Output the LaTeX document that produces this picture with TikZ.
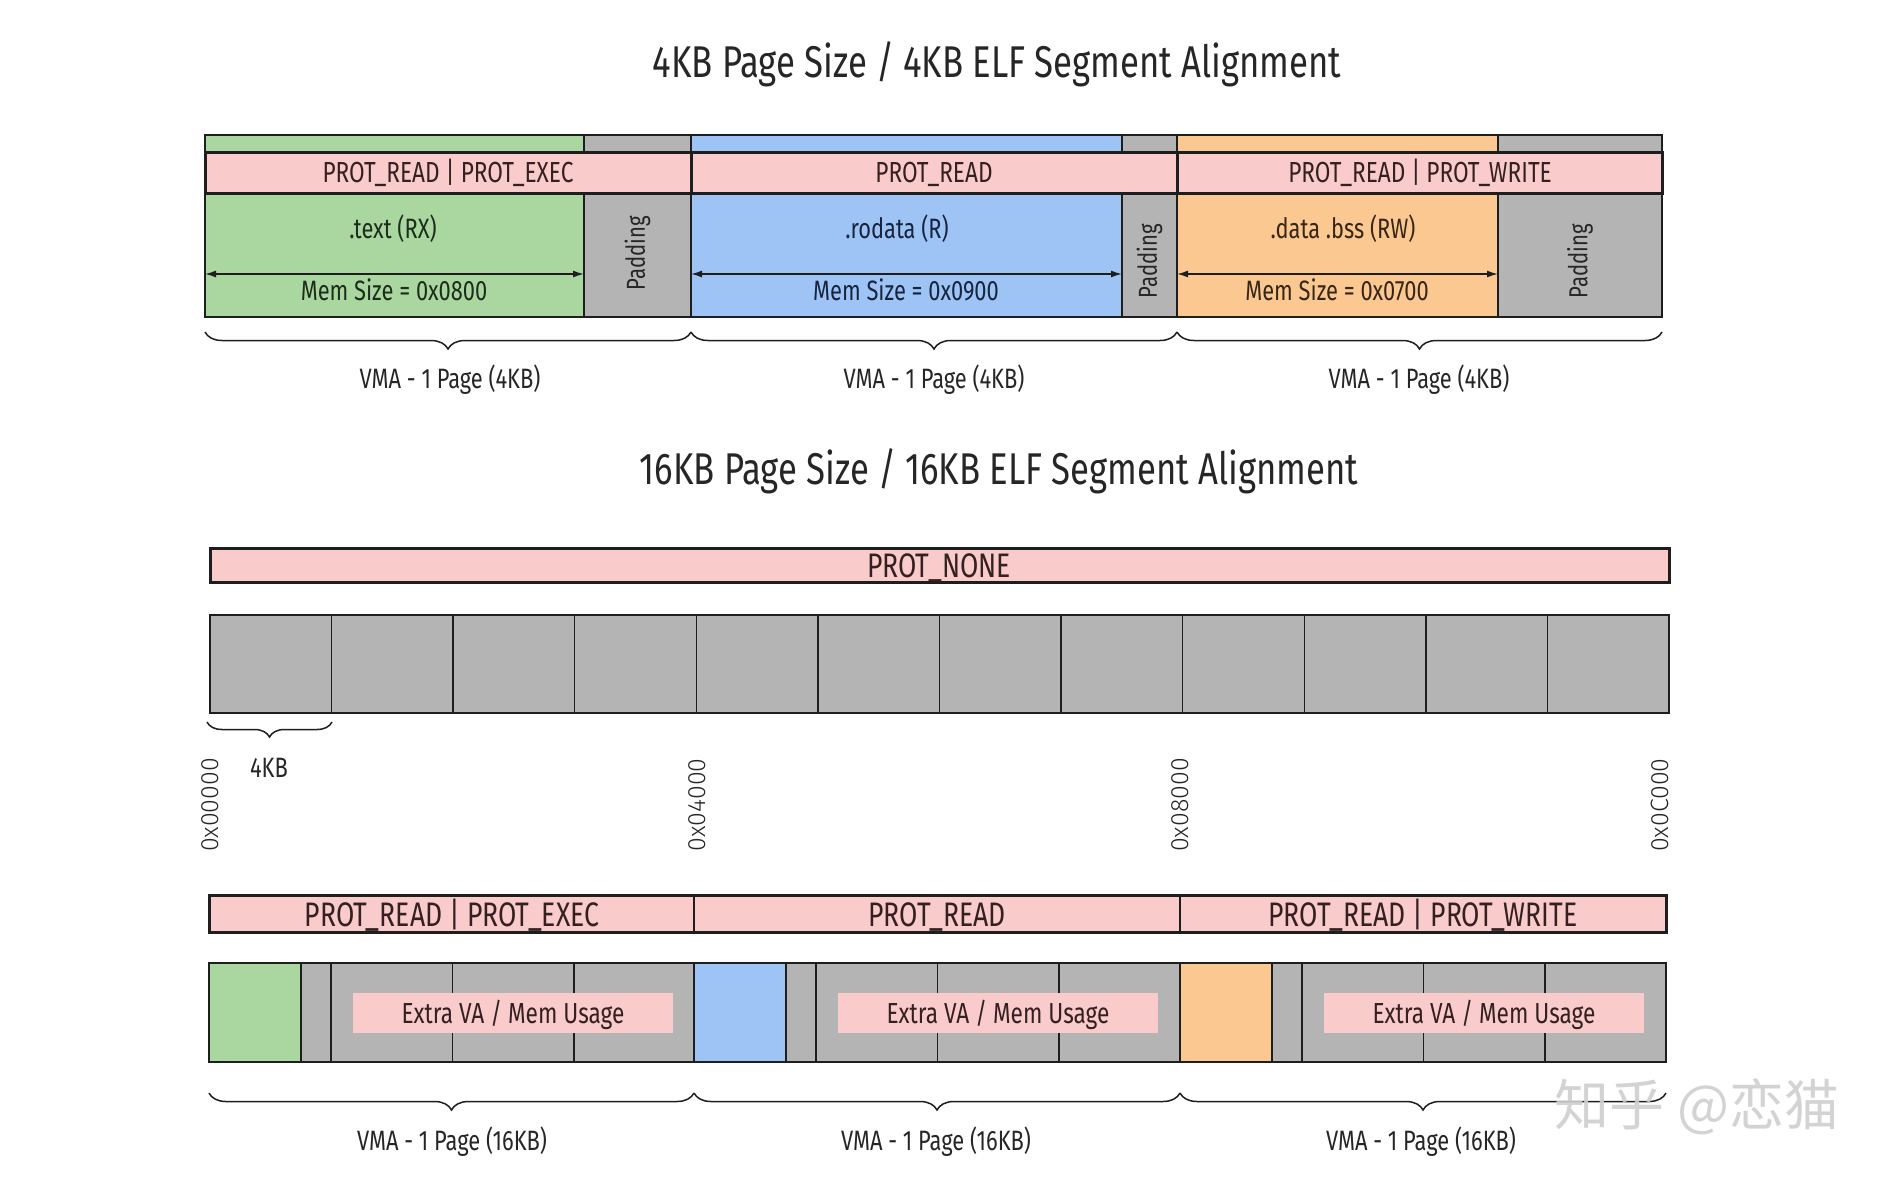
\documentclass[tikz,border=0pt]{standalone}
\usepackage{fontspec}
\setmainfont{Fira Sans}[FakeStretch=0.78]
\IfFontExistsTF{Fira Sans Light}
 {\newfontfamily\addrfont{Fira Sans Light}}
 {\newfontfamily\addrfont{Fira Sans}}
\newfontfamily\cjkfont{Noto Sans CJK SC}
\usetikzlibrary{arrows.meta,decorations.pathreplacing}
\definecolor{cgreen}{RGB}{170,214,160}
\definecolor{cblue}{RGB}{158,196,245}
\definecolor{corange}{RGB}{252,200,146}
\definecolor{cgrey}{RGB}{180,180,180}
\definecolor{cpink}{RGB}{249,203,203}
\definecolor{cline}{RGB}{30,30,30}
\definecolor{ctext}{RGB}{38,38,38}
\definecolor{tgreen}{RGB}{28,45,28}
\definecolor{tblue}{RGB}{22,36,62}
\definecolor{torange}{RGB}{55,38,20}
\definecolor{tpink}{RGB}{52,32,32}
\tikzset{
  cellbox/.style={draw=cline, line width=1.4pt},
  protband/.style={draw=cline, line width=3pt, fill=cpink},
  t28/.style={inner sep=0pt, anchor=base, font=\fontsize{28}{32}\selectfont, text=ctext},
  t29/.style={inner sep=0pt, anchor=base, font=\fontsize{29}{33}\selectfont, text=tpink},
  t34/.style={inner sep=0pt, anchor=base, font=\fontsize{34}{38}\selectfont, text=tpink},
  ttl/.style={inner sep=0pt, anchor=base, font=\fontsize{44.5}{50}\selectfont, text=ctext},
  rotlbl/.style={inner sep=0pt, rotate=90, font=\fontsize{26}{30}\selectfont, text=ctext},
  addr/.style={inner sep=0pt, rotate=90, font=\addrfont\fontsize{25}{30}\selectfont, text=ctext},
  brc/.style={decorate, decoration={brace, mirror, amplitude=17pt}, line width=1.5pt, draw=cline},
  memarrow/.style={{Latex[length=11pt,width=7pt]}-{Latex[length=11pt,width=7pt]}, line width=1.5pt, draw=cline},
}
\begin{document}
\begin{tikzpicture}[x=1pt,y=-1pt]
\fill[white] (0,0) rectangle (1892,1184);
\useasboundingbox (0,0) rectangle (1892,1184);

% ---------- titles ----------
\node[ttl] (title1) at (997,77) {4KB Page Size / 4KB ELF Segment Alignment};
\node[ttl] (title2) at (999,484) {16KB Page Size / 16KB ELF Segment Alignment};

% ---------- 4KB section ----------
\draw[cellbox, fill=cgreen]  (205,135) rectangle (584,317);
\draw[cellbox, fill=cgrey]   (584,135) rectangle (691,317);
\draw[cellbox, fill=cblue]   (691,135) rectangle (1122,317);
\draw[cellbox, fill=cgrey]   (1122,135) rectangle (1177,317);
\draw[cellbox, fill=corange] (1177,135) rectangle (1498,317);
\draw[cellbox, fill=cgrey]   (1498,135) rectangle (1662,317);

\draw[protband] (205,152) rectangle (1662,193);
\draw[line width=3pt, cline] (691,152) -- (691,193);
\draw[line width=3pt, cline] (1177,152) -- (1177,193);
\node[t29] (pa1) at (448,182) {PROT\_READ | PROT\_EXEC};
\node[t29] (pa2) at (934,182) {PROT\_READ};
\node[t29] (pa3) at (1420,182) {PROT\_READ | PROT\_WRITE};

\node[t28, text=tgreen]  (sec1) at (393,238) {.text (RX)};
\node[t28, text=tblue]   (sec2) at (897,238) {.rodata (R)};
\node[t28, text=torange] (sec3) at (1343,238) {.data .bss (RW)};

\coordinate (a1l) at (205,274); \coordinate (a1r) at (584,274);
\coordinate (a2l) at (691,274); \coordinate (a2r) at (1122,274);
\coordinate (a3l) at (1177,274); \coordinate (a3r) at (1498,274);
\draw[memarrow] (a1l) -- (a1r);
\draw[memarrow] (a2l) -- (a2r);
\draw[memarrow] (a3l) -- (a3r);
\node[t28, text=tgreen]  (ms1) at (394,300) {Mem Size = 0x0800};
\node[t28, text=tblue]   (ms2) at (906,300) {Mem Size = 0x0900};
\node[t28, text=torange] (ms3) at (1337,300) {Mem Size = 0x0700};

\node[rotlbl] (pad1) at (637.5,253) {Padding};
\node[rotlbl] (pad2) at (1149.5,261) {Padding};
\node[rotlbl] (pad3) at (1580,261) {Padding};

\coordinate (b1a) at (205,332); \coordinate (b1b) at (691,332);
\coordinate (b2a) at (691,332); \coordinate (b2b) at (1177,332);
\coordinate (b3a) at (1177,332); \coordinate (b3b) at (1662,332);
\draw[brc] (b1a) -- (b1b);
\draw[brc] (b2a) -- (b2b);
\draw[brc] (b3a) -- (b3b);
\node[t28] (vma1) at (450,388) {VMA - 1 Page (4KB)};
\node[t28] (vma2) at (934,388) {VMA - 1 Page (4KB)};
\node[t28] (vma3) at (1419,388) {VMA - 1 Page (4KB)};

% ---------- 16KB section ----------
\draw[protband] (210,548) rectangle (1669,582);
\node[t34] (pnone) at (939,577) {PROT\_NONE};

\foreach \i in {0,...,11}
  \draw[cellbox, fill=cgrey] ({210+\i*121.583},615) rectangle ({210+(\i+1)*121.583},713);

\coordinate (k1) at (207,722); \coordinate (k2) at (332,722);
\draw[brc, decoration={amplitude=15pt}] (k1) -- (k2);
\node[t28] (kb4) at (269,777) {4KB};

\node[addr] (ad0) at (210,805) {0x00000};
\node[addr] (ad1) at (697,805) {0x04000};
\node[addr] (ad2) at (1180,805) {0x08000};
\node[addr] (ad3) at (1660,805) {0x0C000};

\draw[protband] (209,895) rectangle (1666,932);
\draw[line width=2.5pt, cline] (694,895) -- (694,932);
\draw[line width=2.5pt, cline] (1180,895) -- (1180,932);
\node[t34] (pb1) at (452,926) {PROT\_READ | PROT\_EXEC};
\node[t34] (pb2) at (937,926) {PROT\_READ};
\node[t34] (pb3) at (1423,926) {PROT\_READ | PROT\_WRITE};

\foreach \X/\c/\n in {209/cgreen/1, 694/cblue/2, 1180/corange/3}{
  \draw[cellbox, fill=\c]   (\X,963) rectangle ({\X+92},1062);
  \draw[cellbox, fill=cgrey] ({\X+92},963) rectangle ({\X+122},1062);
  \draw[cellbox, fill=cgrey] ({\X+122},963) rectangle ({\X+243.5},1062);
  \draw[cellbox, fill=cgrey] ({\X+243.5},963) rectangle ({\X+365},1062);
  \draw[cellbox, fill=cgrey] ({\X+365},963) rectangle ({\X+486},1062);
  \fill[cpink] ({\X+144},993) rectangle ({\X+464},1033);
  \node[t29, text=tpink] (extra\n) at ({\X+304},1023) {Extra VA / Mem Usage};
}

\coordinate (c1a) at (209,1093); \coordinate (c1b) at (694,1093);
\coordinate (c2a) at (694,1093); \coordinate (c2b) at (1180,1093);
\coordinate (c3a) at (1180,1093); \coordinate (c3b) at (1666,1093);
\draw[brc] (c1a) -- (c1b);
\draw[brc] (c2a) -- (c2b);
\draw[brc] (c3a) -- (c3b);
\node[t28] (vmb1) at (452,1150) {VMA - 1 Page (16KB)};
\node[t28] (vmb2) at (936,1150) {VMA - 1 Page (16KB)};
\node[t28] (vmb3) at (1421,1150) {VMA - 1 Page (16KB)};

% ---------- watermark ----------
\node[inner sep=0pt, font=\cjkfont\fontsize{55}{60}\selectfont, text=gray!38, opacity=0.9] (wm) at (1697,1107) {知乎 @恋猫};
\end{tikzpicture}
\end{document}
